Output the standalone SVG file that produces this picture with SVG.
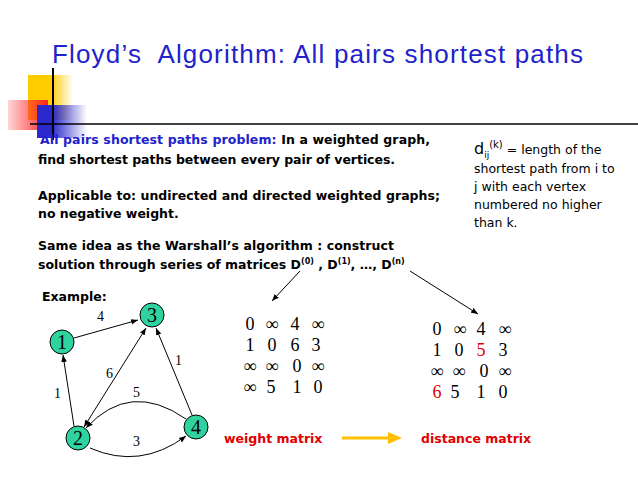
<svg xmlns="http://www.w3.org/2000/svg" width="638" height="477" viewBox="0 0 638 477">
<defs>
<marker id="ah" viewBox="0 0 10 10" refX="10" refY="5" markerWidth="7" markerHeight="7" orient="auto-start-reverse"><path d="M0,1 L10,5 L0,9 z" fill="#000"/></marker>
<linearGradient id="gy" x1="0" x2="1"><stop offset="0.5" stop-color="#ffcc00"/><stop offset="1" stop-color="#ffcc00" stop-opacity="0"/></linearGradient>
<linearGradient id="gr" x1="0" x2="1"><stop offset="0" stop-color="#ff3333" stop-opacity="0.2"/><stop offset="1" stop-color="#ff2222"/></linearGradient>
<linearGradient id="gb" x1="0" x2="1"><stop offset="0.3" stop-color="#2a2acc"/><stop offset="1" stop-color="#2a2acc" stop-opacity="0"/></linearGradient>
<style>
.b{font-family:"DejaVu Sans",Verdana,sans-serif;font-weight:bold;font-size:12.5px;fill:#000}
.s{font-family:"DejaVu Sans",Verdana,sans-serif;font-size:12.5px;fill:#000}
.m{font-family:"Liberation Serif",serif;font-size:18px;fill:#000;text-anchor:middle}
.w{font-family:"Liberation Serif",serif;font-size:14px;fill:#000}
.n circle{fill:#2fd3a0;stroke:#000;stroke-width:1}
.n text{font-family:"Liberation Serif",serif;font-size:20px;text-anchor:middle;fill:#000}
.e{fill:none;stroke:#000;stroke-width:1}
.red{fill:#e00000}
</style>
</defs>
<rect x="28" y="75" width="45" height="45" fill="url(#gy)"/>
<rect x="8" y="100" width="40" height="30" fill="url(#gr)"/>
<rect x="37" y="105" width="50" height="33" fill="url(#gb)"/>
<line x1="53" y1="68" x2="53" y2="140" stroke="#000" stroke-width="2"/>
<line x1="30" y1="124" x2="638" y2="124" stroke="#000" stroke-width="1.5"/>
<text x="52" y="63" font-family="Liberation Sans,Arial,sans-serif" font-size="26" fill="#2222cc" textLength="531" xml:space="preserve">Floyd’s  Algorithm: All pairs shortest paths</text>
<text class="b" x="40" y="144" textLength="390"><tspan fill="#2222cc">All pairs shortest paths problem:</tspan> In a weighted graph,</text>
<text class="b" x="38" y="164" textLength="357">find shortest paths between every pair of vertices.</text>
<text class="b" x="38" y="200" textLength="402">Applicable to: undirected and directed weighted graphs;</text>
<text class="b" x="38" y="218">no negative weight.</text>
<text class="b" x="38" y="250" textLength="356">Same idea as the Warshall’s algorithm : construct</text>
<text class="b" x="38" y="269">solution through series of matrices D<tspan font-size="8" dy="-5">(0)</tspan><tspan dy="5"> , D</tspan><tspan font-size="8" dy="-5">(1)</tspan><tspan dy="5">, …, D</tspan><tspan font-size="8" dy="-5">(n)</tspan></text>
<text class="b" x="42" y="301">Example:</text>
<text class="s" x="474" y="154"><tspan font-size="16">d</tspan><tspan font-size="9" dy="4">ij</tspan><tspan font-size="10" dy="-10">(k)</tspan><tspan dy="6"> = length of the</tspan></text>
<text class="s" x="474" y="173">shortest path from i to</text>
<text class="s" x="474" y="191">j with each vertex</text>
<text class="s" x="474" y="209">numbered no higher</text>
<text class="s" x="474" y="227">than k.</text>
<g id="connectors">
<line class="e" x1="300" y1="271" x2="272" y2="301" marker-end="url(#ah)"/>
<line class="e" x1="410" y1="271" x2="478" y2="314" marker-end="url(#ah)"/>
<line class="e" x1="74" y1="338" x2="138" y2="320" marker-end="url(#ah)"/>
<line class="e" x1="74" y1="426" x2="63" y2="355" marker-end="url(#ah)"/>
<line class="e" x1="84" y1="427" x2="146" y2="328" marker-start="url(#ah)" marker-end="url(#ah)"/>
<line class="e" x1="192" y1="415" x2="156" y2="328" marker-end="url(#ah)"/>
<path class="e" d="M186,419 Q130,380 86,428" marker-end="url(#ah)"/>
<path class="e" d="M90,448 Q140,470 186,436" marker-end="url(#ah)"/>
<line x1="342" y1="438" x2="392" y2="438" stroke="#ffc000" stroke-width="3"/>
<path d="M388,432 L402,438 L388,444 z" fill="#ffc000"/>
</g>
<text class="w" x="97" y="321">4</text>
<text class="w" x="175" y="365">1</text>
<text class="w" x="106" y="378">6</text>
<text class="w" x="54" y="398">1</text>
<text class="w" x="133" y="397">5</text>
<text class="w" x="133" y="446">3</text>
<g id="n1" class="n"><circle cx="62" cy="342" r="12"/><text x="62" y="349">1</text></g>
<g id="n3" class="n"><circle cx="152" cy="315" r="12"/><text x="152" y="322">3</text></g>
<g id="n2" class="n"><circle cx="78" cy="438" r="12"/><text x="78" y="445">2</text></g>
<g id="n4" class="n"><circle cx="196" cy="427" r="12"/><text x="196" y="434">4</text></g>
<g class="m">
<text x="250" y="330">0</text><text x="272" y="330">∞</text><text x="295" y="330">4</text><text x="318" y="330">∞</text>
<text x="250" y="351">1</text><text x="272" y="351">0</text><text x="295" y="351">6</text><text x="316" y="351">3</text>
<text x="250" y="372">∞</text><text x="272" y="372">∞</text><text x="297" y="372">0</text><text x="318" y="372">∞</text>
<text x="250" y="393">∞</text><text x="271" y="393">5</text><text x="297" y="393">1</text><text x="318" y="393">0</text>
<text x="437" y="335">0</text><text x="460" y="335">∞</text><text x="481" y="335">4</text><text x="505" y="335">∞</text>
<text x="437" y="356">1</text><text x="459" y="356">0</text><text x="481" y="356" class="red">5</text><text x="503" y="356">3</text>
<text x="437" y="377">∞</text><text x="459" y="377">∞</text><text x="484" y="377">0</text><text x="505" y="377">∞</text>
<text x="437" y="398" class="red">6</text><text x="455" y="398">5</text><text x="481" y="398">1</text><text x="503" y="398">0</text>
</g>
<text class="b" x="224" y="443" style="fill:#e00000">weight matrix</text>
<text class="b" x="421" y="443" style="fill:#e00000">distance matrix</text>
</svg>
